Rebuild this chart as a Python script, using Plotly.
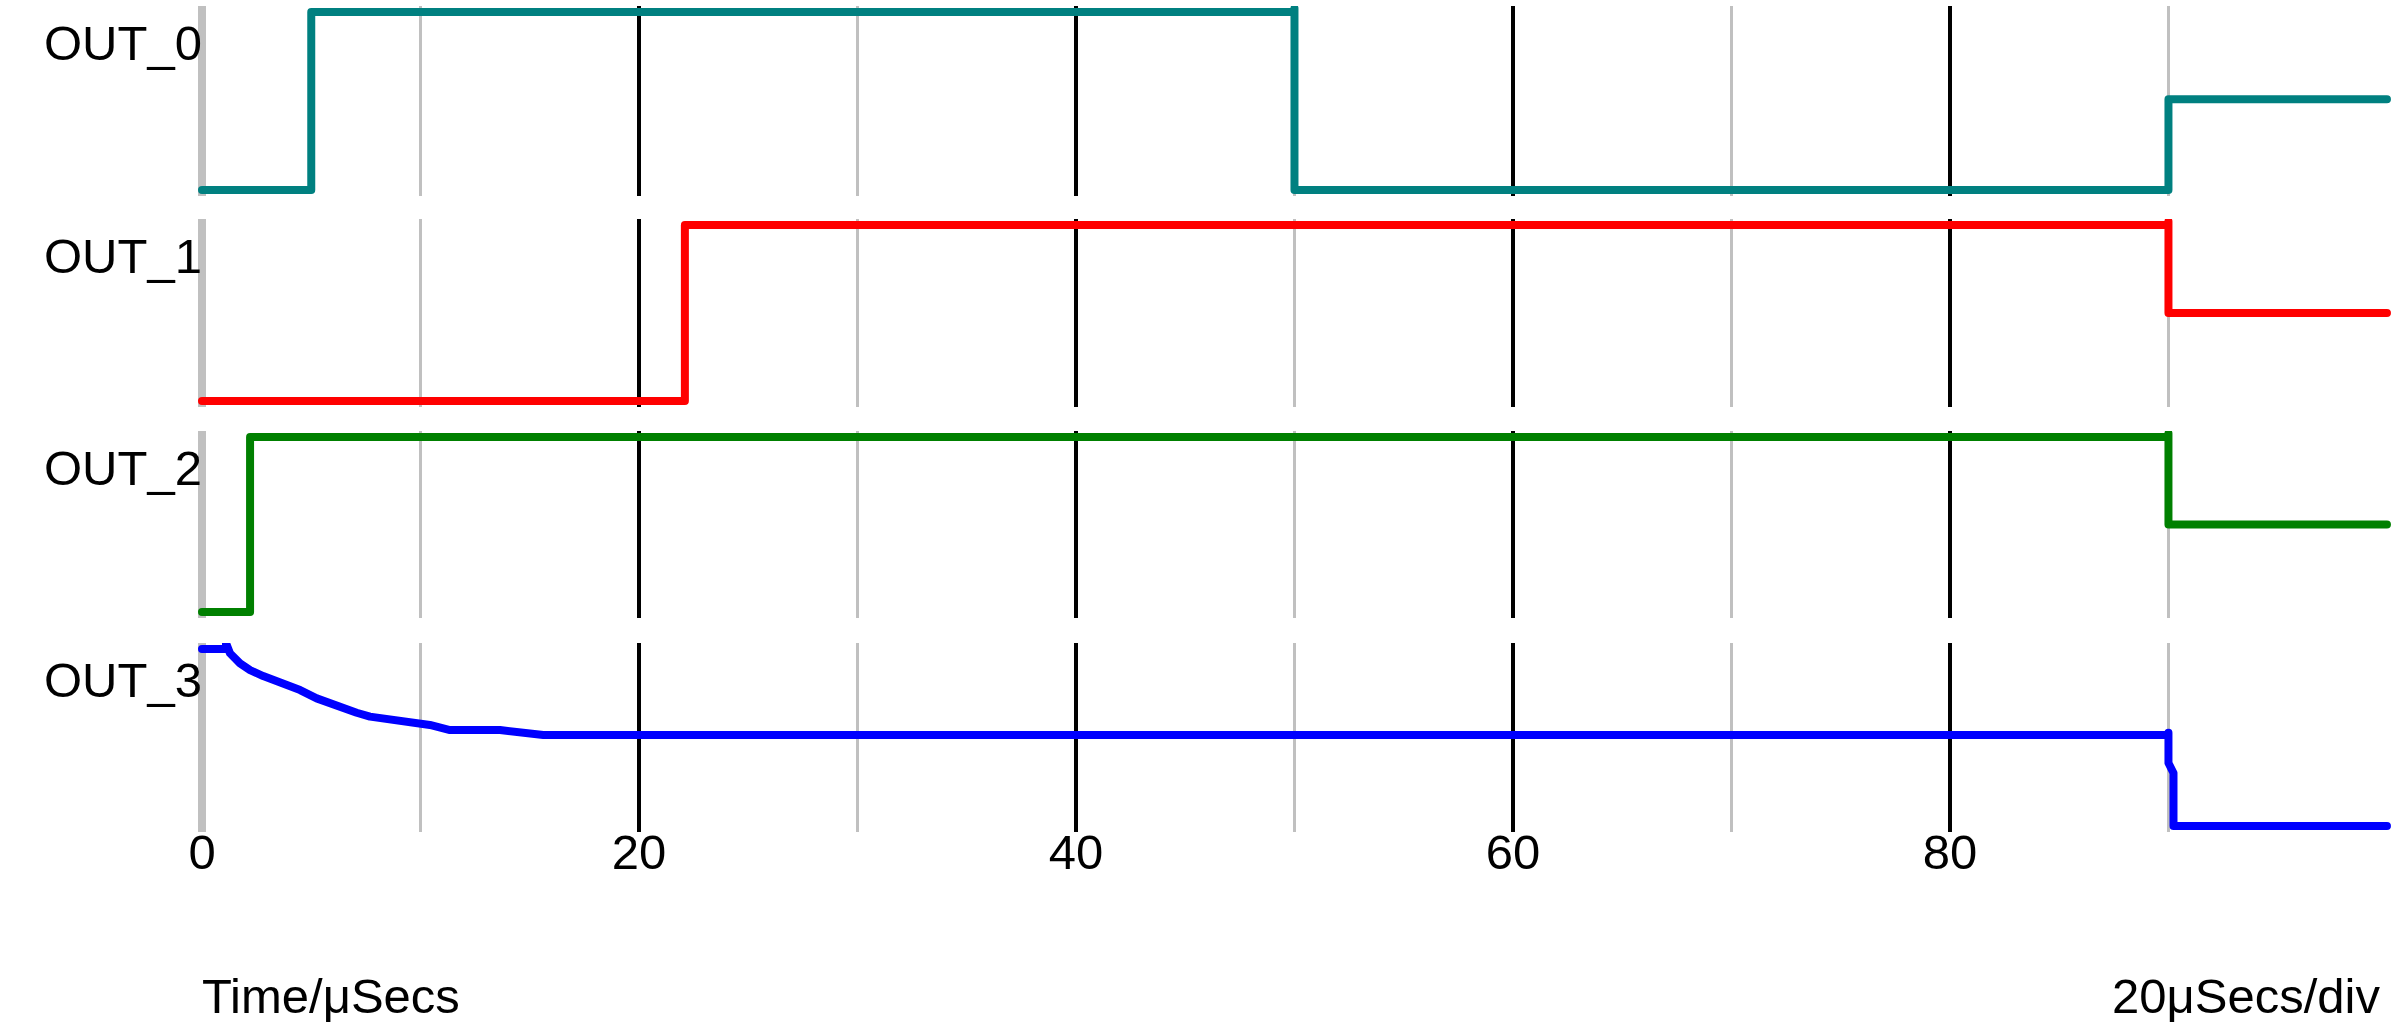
import plotly.graph_objects as go

# ---------------- data ----------------
names = ["OUT_0", "OUT_1", "OUT_2", "OUT_3"]
colors = ["#008080", "#ff0000", "#008000", "#0000ff"]

out0_t = [0, 5, 5, 50, 50, 50, 90, 90, 100]
out0_v = [0, 0, 1, 1, 1.02, 0, 0, 0.51, 0.51]

out1_t = [0, 22.1, 22.1, 90, 90, 90, 100]
out1_v = [0, 0, 1, 1, 1.02, 0.5, 0.5]

out2_t = [0, 2.2, 2.2, 90, 90, 90, 100]
out2_v = [0, 0, 1, 1, 1.02, 0.5, 0.5]

out3_t = [0, 1.1, 1.1, 1.28, 1.74, 2.2, 2.8, 3.72, 4.49, 5.25, 6.16, 7.08,
          7.69, 8.91, 9.83, 10.43, 11.35, 13.64, 15.62, 90, 90, 90, 90.23,
          90.23, 100]
out3_v = [1, 1, 1.034, 0.976, 0.919, 0.881, 0.847, 0.806, 0.768, 0.721,
          0.678, 0.64, 0.618, 0.599, 0.584, 0.571, 0.542, 0.542, 0.514,
          0.514, 0.527, 0.356, 0.299, 0, 0]

major_ticks = [0, 20, 40, 60, 80]
major_labels = ["0", "20", "40", "60", "80"]
minor_ticks = [10, 30, 50, 70, 90]

series_t = [out0_t, out1_t, out2_t, out3_t]
series_v = [out0_v, out1_v, out2_v, out3_v]

x_title = "Time/μSecs"
scale_text = "20μSecs/div"

# ---------------- layout geometry (pixels) ----------------
W, H = 2398, 1026
lane_px = [(12, 190), (225, 401), (437, 612), (649, 826)]  # (top, bottom) of 1 / 0 levels
PAD = 6  # px of room so the thick traces are not clipped at the lane edges
x_left_px, x_right_px = 180.15, 2395.7
x_range = [-1, 100.4]
FONT = "Liberation Sans, Arial, sans-serif"
FS = 49

fig = go.Figure()
layout = dict(
    width=W, height=H,
    margin=dict(l=0, r=0, t=0, b=0, pad=0),
    paper_bgcolor="white", plot_bgcolor="white",
    showlegend=False,
    font=dict(family=FONT, size=FS, color="black"),
)

annotations = []
for i, (name, col, t, v) in enumerate(zip(names, colors, series_t, series_v)):
    k = "" if i == 0 else str(i + 1)
    top, bot = lane_px[i]
    h = bot - top
    fig.add_trace(go.Scatter(
        x=t, y=v, mode="lines", name=name,
        line=dict(color=col, width=8),
        xaxis="x" + k, yaxis="y" + k, cliponaxis=False,
        hoverinfo="skip",
    ))
    bottom = (i == len(names) - 1)
    layout["xaxis" + k] = dict(
        domain=[x_left_px / W, x_right_px / W],
        range=x_range, anchor="y" + k,
        tickmode="array", tickvals=major_ticks, ticktext=major_labels,
        showticklabels=bottom, ticks="", ticklabelstandoff=-13,
        tickfont=dict(family=FONT, size=FS, color="black"),
        showgrid=True, gridcolor="black", gridwidth=4,
        minor=dict(tickmode="array", tickvals=minor_ticks, showgrid=True,
                   gridcolor="#c0c0c0", gridwidth=3, ticks=""),
        zeroline=True, zerolinecolor="#c0c0c0", zerolinewidth=8,
        showline=False, automargin=False, fixedrange=True,
    )
    layout["yaxis" + k] = dict(
        domain=[1 - (bot + PAD) / H, 1 - (top - PAD) / H],
        range=[-PAD / h, 1 + PAD / h], anchor="x" + k,
        showgrid=False, zeroline=False, showticklabels=False,
        showline=False, ticks="", automargin=False, fixedrange=True,
    )
    # lane label
    annotations.append(dict(
        text=name, xref="paper", yref="paper",
        x=42 / W, y=1 - (top + 31) / H,
        xanchor="left", yanchor="middle", showarrow=False,
        font=dict(family=FONT, size=FS, color="black"),
    ))

annotations.append(dict(
    text=x_title, xref="paper", yref="paper",
    x=200 / W, y=1 - 996 / H, xanchor="left", yanchor="middle",
    showarrow=False, font=dict(family=FONT, size=FS, color="black"),
))
annotations.append(dict(
    text=scale_text, xref="paper", yref="paper",
    x=2382 / W, y=1 - 996 / H, xanchor="right", yanchor="middle",
    showarrow=False, font=dict(family=FONT, size=FS, color="black"),
))
layout["annotations"] = annotations

fig.update_layout(**layout)
fig.write_html(
    "out.html",
    config={"displayModeBar": False},
    post_script=(
        "document.documentElement.style.margin='0';"
        "document.documentElement.style.padding='0';"
        "document.body.style.margin='0';"
        "document.body.style.padding='0';"
        "document.body.style.overflow='hidden';"
        "var st=document.createElement('style');"
        "st.textContent='.scatterlayer path.js-line{stroke-linejoin:round;"
        "stroke-linecap:round}';"
        "document.head.appendChild(st);"
    ),
)
